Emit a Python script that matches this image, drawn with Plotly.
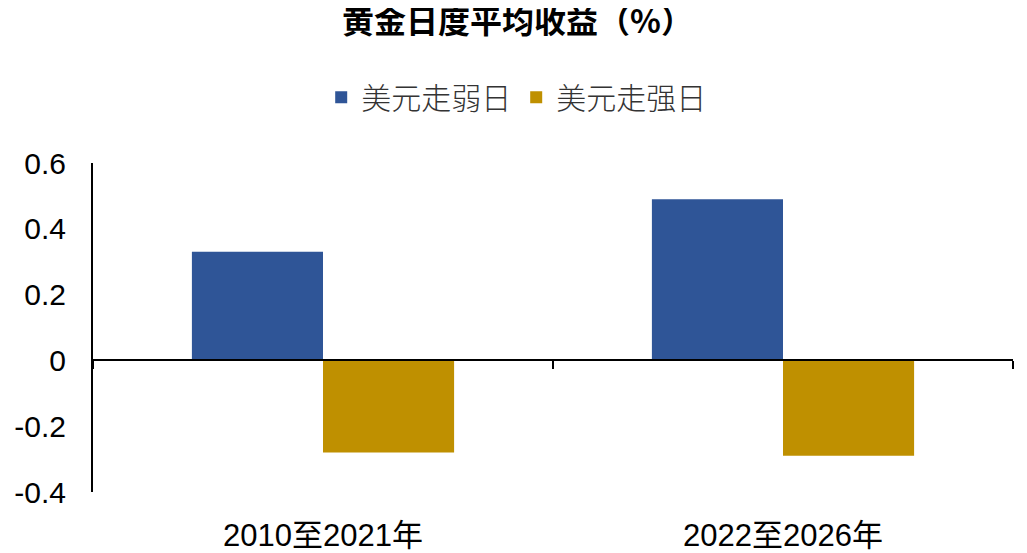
import plotly.graph_objects as go

# 数据
categories = ["2010至2021年", "2022至2026年"]
series_names = ["美元走弱日", "美元走强日"]
weak_usd = [0.33, 0.49]
strong_usd = [-0.28, -0.29]
y_ticks = [-0.4, -0.2, 0, 0.2, 0.4, 0.6]
y_tick_text = ["-0.4", "-0.2", "0", "0.2", "0.4", "0.6"]

colors = ["#2F5597", "#BF9000"]
cjk = "Noto Sans CJK SC"
latin = "Liberation Sans, Arial"

fig = go.Figure()
fig.add_trace(go.Bar(x=categories, y=weak_usd, name=series_names[0],
                     marker=dict(color=colors[0], line=dict(width=0))))
fig.add_trace(go.Bar(x=categories, y=strong_usd, name=series_names[1],
                     marker=dict(color=colors[1], line=dict(width=0))))

y_min, y_max = -0.4, 0.6
zero_pos = (0 - y_min) / (y_max - y_min)

# 页面 body 自带 8px 边距，尺寸相应减小
fig.update_layout(
    width=1019, height=545,
    margin=dict(l=85, r=14, t=155, b=61, autoexpand=False),
    paper_bgcolor="white", plot_bgcolor="white",
    barmode="group", bargap=0.43, bargroupgap=0,
    title=dict(text="<b>黄金日度平均收益（%）</b>", x=0.5, xanchor="center",
               xref="container", yref="container", y=0.974, yanchor="middle",
               font=dict(family=cjk, size=32, color="black")),
    legend=dict(orientation="h", x=0.46, xanchor="center", y=1.2, yanchor="middle",
                font=dict(family=cjk, size=30, color="#333", weight=300),
                itemwidth=30, traceorder="normal"),
    showlegend=True,
    xaxis=dict(type="category", range=[-0.5, 1.5], showline=False, ticks="",
               showgrid=False, zeroline=False, ticklabelstandoff=22, automargin=False,
               tickfont=dict(family=latin + ", " + cjk, size=31, color="black")),
    xaxis2=dict(type="category", overlaying="x", matches="x", anchor="free",
                position=zero_pos, side="bottom", range=[-0.5, 1.5],
                categoryorder="array", categoryarray=categories,
                tickmode="array", tickvals=categories, automargin=False,
                showline=True, linecolor="black", linewidth=2,
                ticks="outside", tickson="boundaries", ticklen=8, tickwidth=2,
                tickcolor="black", showticklabels=False, showgrid=False, zeroline=False),
    yaxis=dict(range=[y_min, y_max], tickmode="array", tickvals=y_ticks,
               ticktext=y_tick_text, showline=True, linecolor="black", linewidth=2,
               ticks="", showgrid=False, zeroline=False, ticklabelstandoff=19,
               automargin=False,
               tickfont=dict(family=latin, size=30, color="black")),
)

# 用于显示零轴刻度的辅助轴
fig.add_trace(go.Scatter(x=categories, y=[0, 0], xaxis="x2", mode="markers",
                         marker=dict(opacity=0), showlegend=False, hoverinfo="skip"))

fig.write_html("out.html")
